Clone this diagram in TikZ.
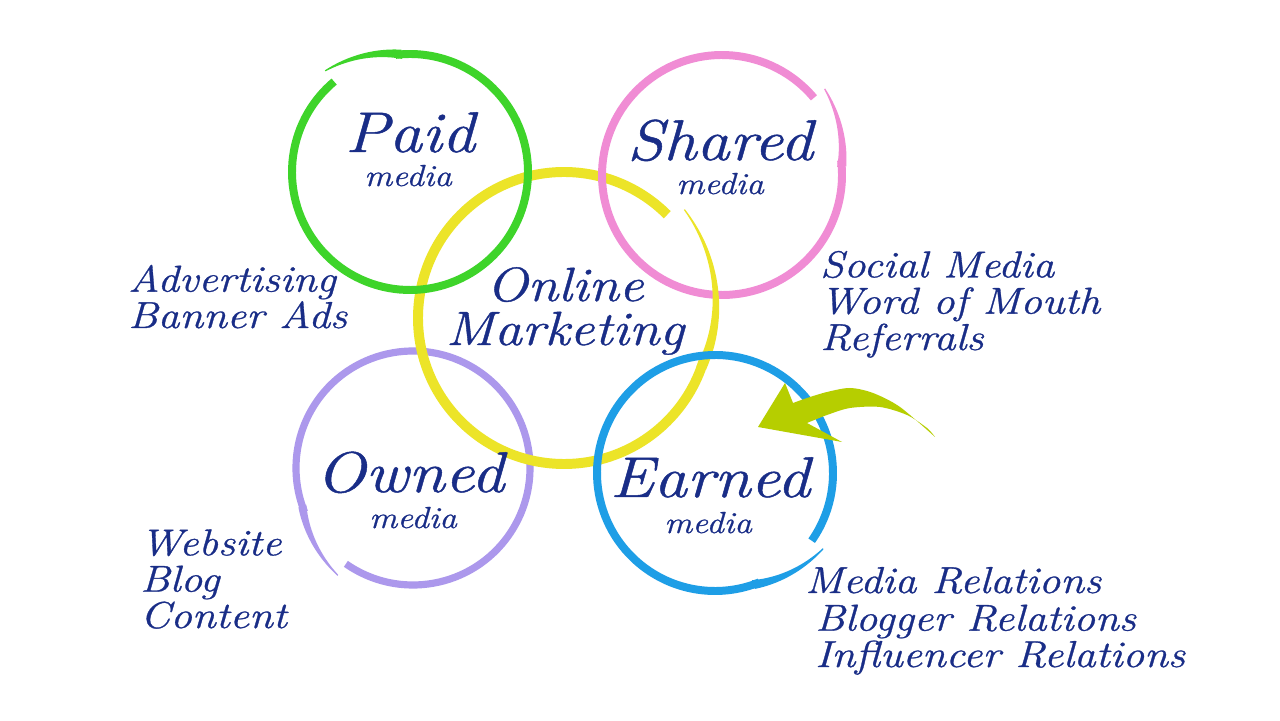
\documentclass[tikz,border=0pt]{standalone}
\usepackage{fontspec}
\newfontfamily\handfont{Latin Modern Roman}[FakeStretch=1.15, FakeBold=0.8]
\newcommand{\hand}{\handfont\itshape}
\definecolor{inkblue}{RGB}{25,45,135}
\definecolor{paidgreen}{RGB}{62,212,42}
\definecolor{sharedpink}{RGB}{240,140,212}
\definecolor{onlineyellow}{RGB}{236,228,40}
\definecolor{ownedlilac}{RGB}{172,152,236}
\definecolor{earnedblue}{RGB}{30,158,230}
\definecolor{arrowlime}{RGB}{182,206,0}

% brush tail: x, y, radius, colour, start angle, span, growth, half width
\newcommand{\ringtail}[8]{%
  \fill[#4] plot[domain=0:#6, samples=30, smooth]
      ({#1+(#3+#7*\x/#6+#8*(1-\x/#6)+0.6)*cos(#5+\x)},{#2+(#3+#7*\x/#6+#8*(1-\x/#6)+0.6)*sin(#5+\x)})
    -- plot[domain=#6:0, samples=30, smooth]
      ({#1+(#3+#7*\x/#6-#8*(1-\x/#6)-0.6)*cos(#5+\x)},{#2+(#3+#7*\x/#6-#8*(1-\x/#6)-0.6)*sin(#5+\x)})
    -- cycle;
}
% hand drawn ring: x, y, radius, colour, start angle, half width
\newcommand{\ring}[6]{%
  \draw[#4, line width=#6*1.7pt] ([shift={(#5:#3)}]#1,#2) arc[start angle=#5, end angle=#5+327, radius=#3];
  \ringtail{#1}{#2}{#3}{#4}{#5+324}{36}{14}{#6}
}

\begin{document}
\begin{tikzpicture}[x=0.03cm, y=0.03cm,
	title/.style={text=inkblue, font=\hand\fontsize{49}{52}\selectfont, anchor=base, inner sep=0pt, text depth=0pt},
	middle/.style={text=inkblue, font=\hand\fontsize{41}{44}\selectfont, anchor=base, inner sep=0pt},
	sub/.style={text=inkblue, font=\hand\fontsize{26}{28}\selectfont, anchor=base, inner sep=0pt, text height=0.6em},
	note/.style={text=inkblue, font=\hand\fontsize{32}{31}\selectfont, anchor=base west, align=left, inner sep=0pt}
	]
	\useasboundingbox (0,0) rectangle (1280,720);
	\fill[white] (0,0) rectangle (1280,720);
	
	% rings
	\ring{413}{252}{117}{ownedlilac}{235}{3.6}
	\draw[onlineyellow, line width=8.5pt] ([shift={(45:146)}]564,402) arc[start angle=45, end angle=345, radius=146];
	\ring{410}{548}{118}{paidgreen}{130}{4}
	\ring{722}{545}{120}{sharedpink}{40}{4}
	\ringtail{564}{402}{146}{onlineyellow}{340}{62}{16}{4.5}
	\ring{715}{247}{118}{earnedblue}{325}{4}
	
	% arrow
	\fill[arrowlime] plot[smooth] coordinates {(935,283) (900,313) (873,327) (850,332) (827,328) (807,322) (793,317)}
		-- (785,337) -- (758,293) -- (842,278)
		-- plot[smooth] coordinates {(807,297) (827,305) (850,312) (880,313) (907,305) (927,292) (935,283)} -- cycle;
	
	% titles
	\node[title] (paid) at (410,568) {Paid};
	\node[sub] (paidsub) at (408,534) {media};
	\node[title] (shared) at (720,560) {Shared};
	\node[sub] (sharedsub) at (720,526) {media};
	\node[middle] (online) at (565,419) {Online};
	\node[middle] (marketing) at (565,375) {Marketing};
	\node[title] (owned) at (410,228) {Owned};
	\node[sub] (ownedsub) at (413,192) {media};
	\node[title] (earned) at (710,223) {Earned};
	\node[sub] (earnedsub) at (708,187) {media};
	
	% notes (base = last line)
	\node[note] (paidnote) at (128,392) {Advertising\\Banner Ads};
	\node[note] (sharednote) at (820,370) {Social Media\\Word of Mouth\\Referrals};
	\node[note] (ownednote) at (140,92) {Website\\Blog\\Content};
	\node[note] (earnednote) at (805,127) {Media Relations};
	\node[note] (earnednote2) at (815,53) {Blogger Relations\\Influencer Relations};
\end{tikzpicture}
\end{document}
